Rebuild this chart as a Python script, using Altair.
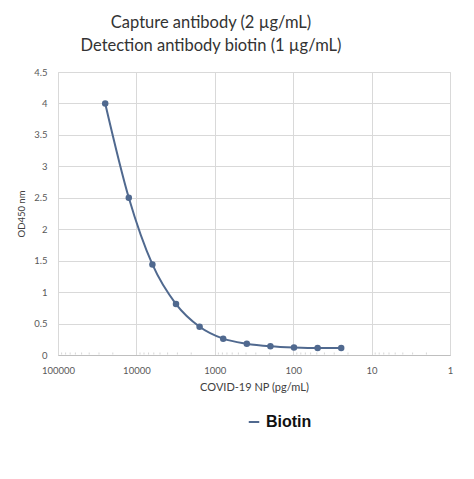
import altair as alt
import pandas as pd

conc = [25000, 12500, 6250, 3125, 1562.5, 781.25, 390.6, 195.3, 97.7, 48.8, 24.4]
od = [4.0, 2.5, 1.44, 0.81, 0.45, 0.26, 0.18, 0.14, 0.12, 0.11, 0.11]
series = ["Biotin"] * len(conc)

x_major = [100000, 10000, 1000, 100, 10, 1]
x_minor = [m * 10 ** e for e in range(0, 5) for m in range(2, 10)]
y_ticks = [0, 0.5, 1, 1.5, 2, 2.5, 3, 3.5, 4, 4.5]
title_lines = ["Capture antibody (2 µg/mL)", "Detection antibody biotin (1 µg/mL)"]

df = pd.DataFrame({"conc": conc, "od": od, "series": series})
df_minor = pd.DataFrame({"conc": x_minor})

COLOR = "#50698f"
xscale = alt.Scale(type="log", domain=[1, 100000], reverse=True, nice=False)
yscale = alt.Scale(domain=[0, 4.5], nice=False)

X = alt.X("conc:Q", scale=xscale,
          axis=alt.Axis(values=x_major, format="d", title="COVID-19 NP (pg/mL)",
                        grid=True, gridColor="#d9d9d9", ticks=False,
                        domainColor="#bfbfbf", labelFontSize=9.5, labelColor="#595959",
                        labelFont="Lato", labelPadding=10, labelFlush=False,
                        titleFont="Lato", titleFontSize=11, titleFontWeight="normal",
                        titleColor="#404040", titlePadding=7))
Y = alt.Y("od:Q", scale=yscale,
          axis=alt.Axis(values=y_ticks, format="~g", title="OD450 nm",
                        grid=True, gridColor="#d9d9d9", ticks=False, domain=False,
                        labelFontSize=9.5, labelColor="#595959", labelFont="Lato",
                        labelPadding=11, titleFont="Lato", titleFontSize=9.5,
                        titleFontWeight="normal", titleColor="#404040", titlePadding=7))
C = alt.Color("series:N", scale=alt.Scale(domain=["Biotin"], range=[COLOR]),
              legend=alt.Legend(title=None, orient="none", legendX=188, legendY=342,
                                symbolType="stroke", symbolStrokeWidth=2, symbolSize=110,
                                labelFont="Liberation Sans", labelFontSize=16,
                                labelFontWeight="bold", labelColor="#111111"))

base = alt.Chart(df).encode(x=X, y=Y, color=C)

line = base.mark_line(interpolate="monotone", strokeWidth=2)
points = base.mark_point(filled=True, size=42, opacity=1)

minor = alt.Chart(df_minor).mark_tick(color="#c4c4c4", size=2, thickness=1).encode(
    x=alt.X("conc:Q", scale=xscale),
    y=alt.value(281.5),
)

chart = alt.layer(line, points, minor).properties(
    width=392,
    height=283,
    autosize=alt.AutoSizeParams(type="none"),
    padding={"left": 50, "top": 64, "right": 16, "bottom": 100},
    title=alt.TitleParams(title_lines, font="Lato", fontSize=16.5, fontWeight="normal",
                          color="#333333", dx=-43, offset=13, lineHeight=23, anchor="middle"),
).configure_view(stroke=None).configure(background="white")

chart.save("out.html", embed_options={"renderer": "svg", "actions": False})
